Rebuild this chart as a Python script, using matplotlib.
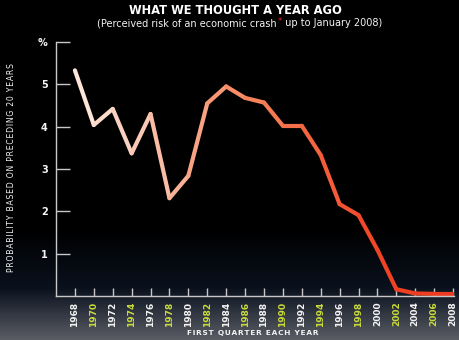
import matplotlib.pyplot as plt
import numpy as np
from matplotlib.collections import LineCollection
from matplotlib.colors import LinearSegmentedColormap

years = [1968, 1970, 1972, 1974, 1976, 1978, 1980, 1982, 1984, 1986, 1988,
         1990, 1992, 1994, 1996, 1998, 2000, 2002, 2004, 2006, 2008]
risk = [5.33, 4.04, 4.42, 3.37, 4.30, 2.31, 2.84, 4.55, 4.95, 4.68, 4.57,
        4.02, 4.02, 3.33, 2.17, 1.91, 1.09, 0.16, 0.06, 0.05, 0.05]
yticks = [1, 2, 3, 4, 5, 6]
ytick_labels = ['1', '2', '3', '4', '5', '%']

title = 'WHAT WE THOUGHT A YEAR AGO'
sub_left = '(Perceived risk of an economic crash'
sub_right = ' up to January 2008)'
ylab = 'PROBABILITY BASED ON PRECEDING 20 YEARS'
xlab = 'FIRST QUARTER EACH YEAR'

WHITE = '#f4f4f4'
YELLOW = '#c9dc3a'


def spaced(s, gap='\u200a'):
    return gap.join(s)


fig = plt.figure(figsize=(4.6, 3.4), dpi=100)

# dark background fading to grey at the bottom
bg = fig.add_axes([0, 0, 1, 1], zorder=-10)
h = 340
yy = np.arange(h)
t1 = np.clip((yy - 230) / 60.0, 0, 1)
t2 = np.clip((yy - 288) / 52.0, 0, 1)
r = 10 * t1 + 82 * t2
g = 18 * t1 + 76 * t2
b = 30 * t1 + 72 * t2
grad = np.stack([r, g, b], axis=1)[:, None, :] / 255.0
bg.imshow(np.repeat(grad, 4, axis=1), aspect='auto', extent=[0, 1, 0, 1],
          origin='upper')
bg.axis('off')

ax = fig.add_axes([56 / 460, 1 - 296 / 340, 398 / 460, 254 / 340])
ax.set_facecolor('none')

cmap = LinearSegmentedColormap.from_list(
    'heat', ['#fde9e0', '#f9c3ad', '#f8926c', '#f56a45', '#f04325', '#ef3a1f'])
pts = np.column_stack([years, risk])
segs = np.stack([pts[:-1], pts[1:]], axis=1)
mid = (np.array(years[:-1]) + np.array(years[1:])) / 2.0
lc = LineCollection(segs, colors=cmap((mid - 1968) / 40.0), linewidths=3.0,
                    capstyle='round', joinstyle='round')
ax.add_collection(lc)

ax.set_xlim(1966, 2008.1)
ax.set_ylim(0, 6)

for s in ['top', 'right']:
    ax.spines[s].set_visible(False)
for s in ['left', 'bottom']:
    ax.spines[s].set_color('#c8c8c8')
    ax.spines[s].set_linewidth(1.0)

ax.set_yticks(yticks)
ax.set_yticklabels(ytick_labels)
ax.tick_params(axis='y', direction='in', length=10, width=1, color='#c8c8c8',
               pad=6, labelsize=7, labelcolor=WHITE)
for lb in ax.get_yticklabels():
    lb.set_fontweight('bold')

ax.set_xticks(years)
ax.set_xticklabels([str(y) for y in years], rotation=90)
ax.tick_params(axis='x', direction='in', length=6, width=1, color='#c8c8c8',
               pad=4, labelsize=6.5)
for i, lb in enumerate(ax.get_xticklabels()):
    lb.set_fontweight('bold')
    lb.set_color(WHITE if i % 2 == 0 else YELLOW)

fig.text(12 / 460, 1 - 168 / 340, spaced(ylab), rotation=90, color=WHITE,
         fontsize=5.6, ha='center', va='center')
fig.text(253 / 460, 1 - 333 / 340, spaced(xlab), color=WHITE, fontsize=5.3,
         fontweight='bold', ha='center', va='center')

fig.text(235 / 460, 1 - 10 / 340, title, color='white', fontsize=8.3,
         fontweight='heavy', ha='center', va='center')
sl = fig.text(277 / 460, 1 - 23 / 340, sub_left, color=WHITE, fontsize=7,
              ha='right', va='center')
ax.annotate('*', xy=(1, 1), xycoords=sl, xytext=(0.6, 0.5),
            textcoords='offset points', color='#e8262a', fontsize=6,
            ha='left', va='top')
ax.annotate(sub_right, xy=(1, 1), xycoords=sl, xytext=(3.5, 0),
            textcoords='offset points', color=WHITE, fontsize=7,
            ha='left', va='top')

fig.savefig('out.png', dpi=100, facecolor='black')
